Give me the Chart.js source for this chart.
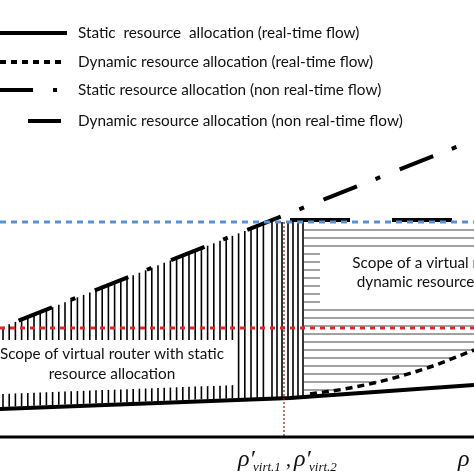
<!DOCTYPE html>
<html><head><meta charset="utf-8">
<script src="https://cdn.jsdelivr.net/npm/chart.js@4"></script>
<style>html,body{margin:0;padding:0;background:#fff}</style>
</head><body>
<canvas id="c" width="474" height="474"></canvas>
<script>
// all values: x in 0..474 (left→right), y in 0..474 (bottom→top)
const staticRTx=[0,290,474], staticRTy=[65,76,89];
const dynamicRTx=[310,350,390,430,474], dynamicRTy=[80,86,95,107,124];
const staticNRTx=[0,474], staticNRTy=[146,334];
const dynamicNRTx=[285,474], dynamicNRTy=[254,254];
const blueLevel=252, redLevel=146, axisLevel=37, rhoX=284;
const legendLabels=["Static  resource  allocation (real-time flow)","Dynamic resource allocation (real-time flow)","Static resource allocation (non real-time flow)","Dynamic resource allocation (non real-time flow)"];
const legendY=[441,412,384,353];
const scopeStatic=["Scope of virtual router with static","resource allocation"];
const scopeDynamic=["Scope of a virtual router with","dynamic resource allocation"];
const vHatch=[];for(let x=3;x<=268;x+=6.2)vHatch.push(x);
const vHatchDense=[272,277,282,288,293,298,303];
const hHatch=[];for(let y=244;y>=84;y-=8)hHatch.push(y);

const pts=(xs,ys)=>xs.map((x,i)=>({x,y:ys[i]}));
const interp=(xs,ys,x)=>{for(let i=0;i<xs.length-1;i++){if(x>=xs[i]&&x<=xs[i+1])return ys[i]+(ys[i+1]-ys[i])*(x-xs[i])/(xs[i+1]-xs[i]);}return x<xs[0]?ys[0]:ys[ys.length-1];};
const L=(data,opt)=>Object.assign({data,borderColor:'#000',borderWidth:3.5,pointRadius:0,fill:false,tension:0},opt);
const datasets=[
 L(pts([0,474],[axisLevel,axisLevel]),{borderWidth:3}),
 L(pts([0,474],[blueLevel,blueLevel]),{borderColor:'#5b8fd0',borderWidth:3,borderDash:[6,5]}),
 L(pts([0,474],[redLevel,redLevel]),{borderColor:'#e0262a',borderWidth:3,borderDash:[5,5]}),
 L(pts([rhoX,rhoX],[blueLevel,axisLevel]),{borderColor:'#8b1a1a',borderWidth:1.2,borderDash:[2,2]}),
 L(pts(staticRTx,staticRTy),{borderWidth:4}),
 L(pts(dynamicRTx,dynamicRTy),{borderWidth:3.5,borderDash:[7,5],tension:0.4,cubicInterpolationMode:'monotone'}),
 L(pts(staticNRTx,staticNRTy),{borderWidth:4,borderDash:[36,20,5,21],borderDashOffset:-20}),
 L(pts(dynamicNRTx,dynamicNRTy),{borderWidth:4,borderDash:[60,42],borderDashOffset:-5}),
 // legend samples
 L(pts([0,67],[legendY[0],legendY[0]]),{borderWidth:4}),
 L(pts([0,62],[legendY[1],legendY[1]]),{borderWidth:4,borderDash:[6,5]}),
 L(pts([0,57],[legendY[2],legendY[2]]),{borderWidth:4,borderDash:[33,20,5,30]}),
 L(pts([28,61],[legendY[3],legendY[3]]),{borderWidth:4})
];
const deco={id:'deco',beforeDatasetsDraw(ch){
  const c=ch.ctx,xs=ch.scales.x,ys=ch.scales.y;
  const X=v=>xs.getPixelForValue(v),Y=v=>ys.getPixelForValue(v);
  c.save();c.strokeStyle='#000';c.lineWidth=1.6;
  const vline=(x,y1,y2)=>{c.beginPath();c.moveTo(X(x),Y(y1));c.lineTo(X(x),Y(y2));c.stroke();};
  vHatch.forEach(x=>{const top=interp(staticNRTx,staticNRTy,x),bot=interp(staticRTx,staticRTy,x);
    if(x<235){vline(x,top,134);vline(x,bot+2,bot+15);}else vline(x,top,bot);});
  vHatchDense.forEach(x=>{const top=Math.min(interp(staticNRTx,staticNRTy,x),blueLevel),bot=interp(staticRTx,staticRTy,x);vline(x,top,bot);});
  c.lineWidth=1;c.strokeStyle='#444';
  hHatch.forEach(y=>{let x2=474;
    if(y>170&&y<225)x2=320;
    if(y<dynamicRTy[dynamicRTy.length-1]){for(let x=305;x<=474;x+=2){if(interp(dynamicRTx,dynamicRTy,x)>=y){x2=x;break;}}}
    c.beginPath();c.moveTo(X(303),Y(y));c.lineTo(X(x2),Y(y));c.stroke();});
  c.restore();},
 afterDraw(ch){
  const c=ch.ctx,xs=ch.scales.x,ys=ch.scales.y;
  const X=v=>xs.getPixelForValue(v),Y=v=>ys.getPixelForValue(v);
  c.save();c.fillStyle='#111';c.textBaseline='middle';
  c.font='15.3px Lato';
  legendLabels.forEach((t,i)=>c.fillText(t,78,Y(legendY[i])));
  c.textAlign='center';
  scopeStatic.forEach((t,i)=>c.fillText(t,112,Y(120-i*20)));
  scopeDynamic.forEach((t,i)=>c.fillText(t,450,Y(211-i*19)));
  c.textAlign='left';c.textBaseline='alphabetic';
  const rho=(x,sub,comma)=>{c.font='italic 24px "Liberation Serif"';c.fillText('ρ′',x,466);c.font='italic 13px "Liberation Serif"';c.fillText(sub,x+15,471);if(comma){c.font='20px "Liberation Serif"';c.fillText(',',x+48,466);}};
  rho(238,'virt.1',true);rho(294,'virt.2',false);
  c.font='italic 24px "Liberation Serif"';c.fillText('ρ',458,466);
  c.restore();}};
new Chart(document.getElementById('c'),{type:'line',data:{datasets},
 options:{responsive:false,animation:false,events:[],layout:{padding:0},
  plugins:{legend:{display:false},tooltip:{enabled:false}},
  scales:{x:{type:'linear',min:0,max:474,display:false},y:{type:'linear',min:0,max:474,display:false}}},
 plugins:[deco]});
</script></body></html>
